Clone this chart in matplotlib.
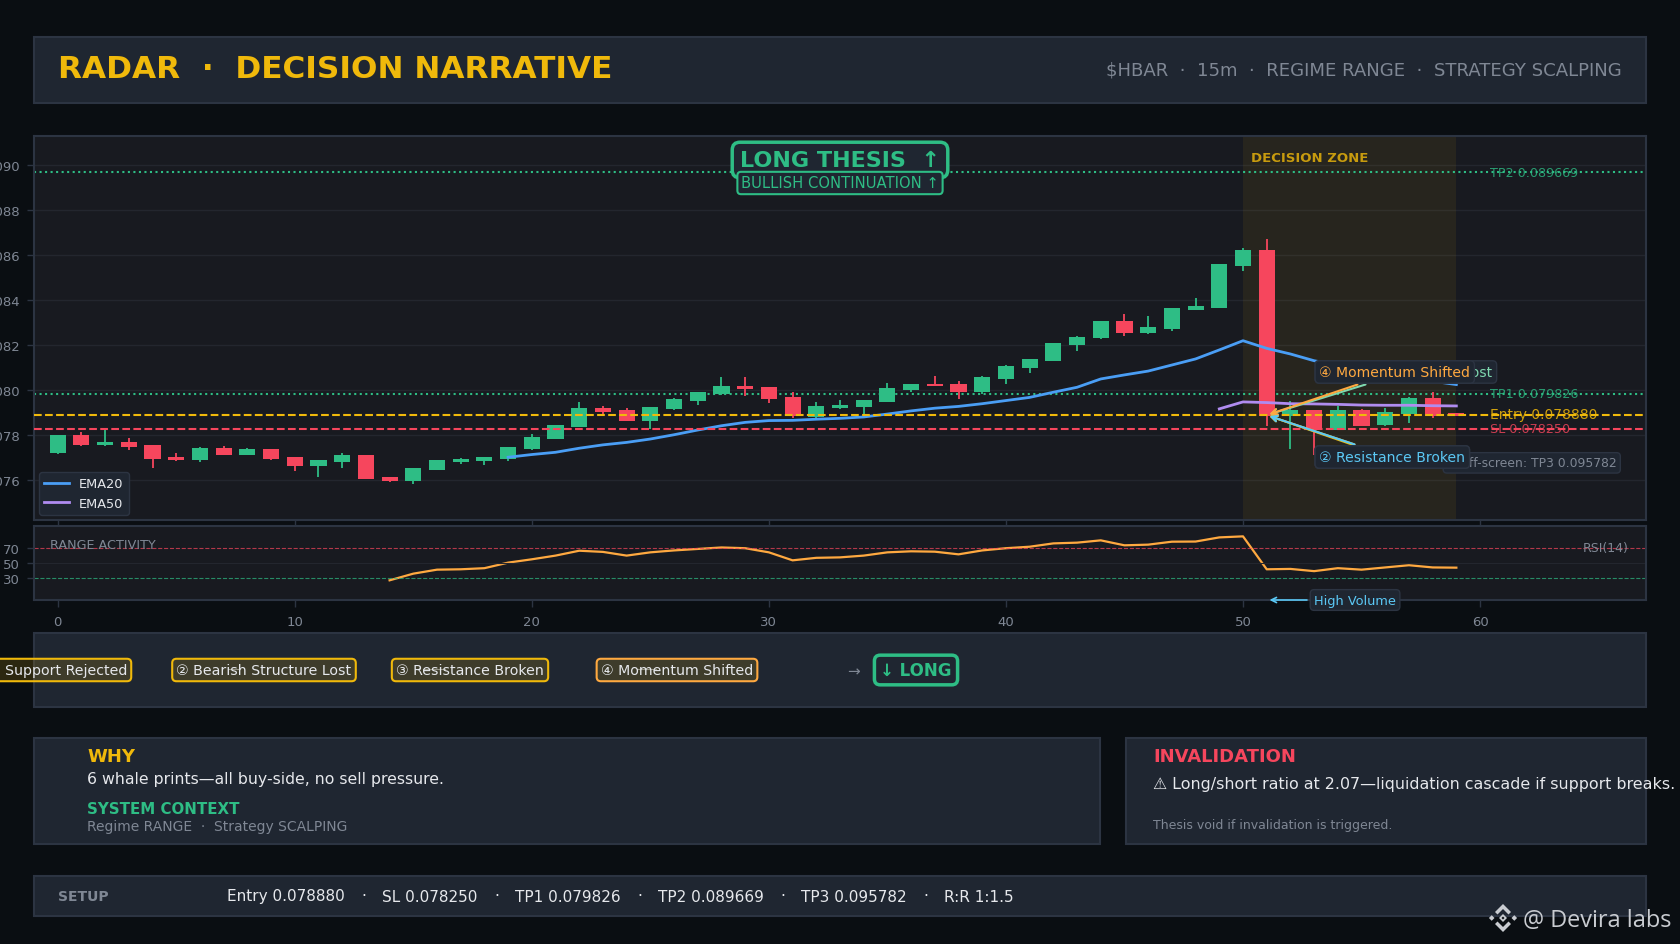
import numpy as np
import matplotlib
matplotlib.use("Agg")
import matplotlib.pyplot as plt
from matplotlib.patches import Rectangle, Polygon

# candles
opens = [0.07721, 0.07800, 0.07757, 0.07769, 0.07756, 0.07702, 0.07690, 0.07742, 0.07713, 0.07738,
         0.07702, 0.07664, 0.07681, 0.07711, 0.07613, 0.07597, 0.07646, 0.07681, 0.07686, 0.07695,
         0.07738, 0.07782, 0.07837, 0.07920, 0.07911, 0.07864, 0.07916, 0.07951, 0.07982, 0.08018,
         0.08013, 0.07969, 0.07880, 0.07920, 0.07924, 0.07947, 0.08000, 0.08027, 0.08027, 0.07991,
         0.08049, 0.08098, 0.08129, 0.08200, 0.08231, 0.08307, 0.08253, 0.08271, 0.08356, 0.08364,
         0.08551, 0.08622, 0.07884, 0.07911, 0.07822, 0.07911, 0.07844, 0.07893, 0.07964, 0.07898]
closes = [0.07800, 0.07757, 0.07769, 0.07748, 0.07695, 0.07689, 0.07742, 0.07713, 0.07738, 0.07695,
          0.07664, 0.07689, 0.07711, 0.07606, 0.07597, 0.07653, 0.07689, 0.07693, 0.07702, 0.07747,
          0.07791, 0.07844, 0.07920, 0.07902, 0.07864, 0.07924, 0.07960, 0.07991, 0.08018, 0.08004,
          0.07960, 0.07884, 0.07929, 0.07933, 0.07956, 0.08009, 0.08027, 0.08018, 0.07991, 0.08058,
          0.08107, 0.08138, 0.08209, 0.08236, 0.08307, 0.08253, 0.08280, 0.08364, 0.08373, 0.08560,
          0.08622, 0.07884, 0.07911, 0.07822, 0.07911, 0.07840, 0.07902, 0.07964, 0.07884, 0.07884]
highs = [0.07800, 0.07815, 0.07822, 0.07787, 0.07756, 0.07720, 0.07747, 0.07751, 0.07742, 0.07738,
         0.07702, 0.07689, 0.07720, 0.07711, 0.07613, 0.07653, 0.07689, 0.07698, 0.07702, 0.07747,
         0.07804, 0.07844, 0.07945, 0.07929, 0.07920, 0.07924, 0.07964, 0.07991, 0.08058, 0.08058,
         0.08013, 0.07990, 0.07947, 0.07956, 0.07956, 0.08031, 0.08027, 0.08062, 0.08040, 0.08062,
         0.08111, 0.08138, 0.08209, 0.08240, 0.08307, 0.08338, 0.08329, 0.08364, 0.08409, 0.08560,
         0.08631, 0.08671, 0.07951, 0.07911, 0.07929, 0.07916, 0.07920, 0.07969, 0.07991, 0.07898]
lows = [0.07716, 0.07751, 0.07753, 0.07735, 0.07655, 0.07686, 0.07681, 0.07713, 0.07713, 0.07689,
        0.07641, 0.07615, 0.07655, 0.07606, 0.07593, 0.07584, 0.07646, 0.07673, 0.07668, 0.07686,
        0.07733, 0.07782, 0.07837, 0.07889, 0.07864, 0.07827, 0.07911, 0.07933, 0.07979, 0.07973,
        0.07942, 0.07874, 0.07877, 0.07916, 0.07893, 0.07947, 0.07991, 0.08018, 0.07960, 0.07981,
        0.08027, 0.08076, 0.08129, 0.08173, 0.08227, 0.08240, 0.08249, 0.08262, 0.08356, 0.08364,
        0.08529, 0.07840, 0.07738, 0.07711, 0.07822, 0.07840, 0.07840, 0.07853, 0.07876, 0.07884]

# moving averages
ema20_x = list(range(19, 60))
ema20 = [0.07701, 0.07713, 0.07723, 0.07741, 0.07756, 0.07767, 0.07782, 0.07801, 0.07822, 0.07841,
         0.07856, 0.07864, 0.07865, 0.07870, 0.07874, 0.07880, 0.07893, 0.07907, 0.07919, 0.07927,
         0.07939, 0.07953, 0.07967, 0.07990, 0.08012, 0.08049, 0.08067, 0.08084, 0.08111, 0.08138,
         0.08178, 0.08219, 0.08185, 0.08160, 0.08130, 0.08111, 0.08090, 0.08071, 0.08056, 0.08039, 0.08024]
ema50_x = list(range(49, 60))
ema50 = [0.07916, 0.07947, 0.07944, 0.07939, 0.07938, 0.07936, 0.07933, 0.07932, 0.07932, 0.07930, 0.07929]

# rsi
rsi_x = list(range(14, 60))
rsi = [26.6, 35.6, 41, 41.5, 43, 50.5, 55, 60, 66.6, 65, 60, 64.4, 67, 69, 71, 70, 64.4, 53.6, 57, 57.6,
       60, 64.4, 65.8, 65.3, 61.7, 67, 70, 72, 76.5, 77.5, 80.6, 73.9, 74.8, 78.8, 79, 84.6, 86,
       41.5, 42, 39, 43, 41, 44, 47, 44, 43.7]

# levels
entry = 0.078880
sl = 0.078250
tp1 = 0.079826
tp2 = 0.089669

chain_labels = ["① Support Rejected", "② Bearish Structure Lost", "③ Resistance Broken", "④ Momentum Shifted"]
setup_items = ["Entry 0.078880", "SL 0.078250", "TP1 0.079826", "TP2 0.089669", "TP3 0.095782", "R:R 1:1.5"]

BG = "#0A0E12"
PANEL = "#1F2631"
EDGE = "#2C3442"
CHART = "#181A20"
GRID = "#23262E"
GREY = "#7F8794"
WHITE = "#E6E8EC"
GREEN = "#2EBD85"
RED = "#F6465D"
YELLOW = "#F0B90B"
BLUE = "#4A9EF5"
PURPLE = "#B08CF0"
ORANGE = "#FFA940"
CYAN = "#5BC8F5"

W, H = 1680, 945
fig = plt.figure(figsize=(16.8, 9.45), dpi=100, facecolor=BG)


def px_axes(left, top, right, bottom, **kw):
    return fig.add_axes([left / W, 1 - bottom / H, (right - left) / W, (bottom - top) / H], **kw)


def panel(left, top, right, bottom):
    back.add_patch(Rectangle((left, top), right - left, bottom - top, facecolor=PANEL, edgecolor=EDGE, lw=1.5))


back = fig.add_axes([0, 0, 1, 1], zorder=0)
back.set_xlim(0, W)
back.set_ylim(H, 0)
back.axis("off")

panel(34, 38, 1646, 104)
panel(34, 634, 1646, 708)
panel(34, 739, 1100, 845)
panel(1126, 739, 1646, 845)
panel(34, 877, 1646, 917)

# main chart
ax = px_axes(34, 137, 1646, 521, zorder=2, facecolor=CHART)
x = np.arange(len(opens))
o = np.array(opens)
c = np.array(closes)
cols = [GREEN if b >= a else RED for a, b in zip(opens, closes)]
ax.vlines(x, lows, highs, colors=cols, lw=1.3, zorder=3)
ax.bar(x, np.abs(c - o), bottom=np.minimum(o, c), width=0.68, color=cols, zorder=3)
ax.plot(ema20_x, ema20, color=BLUE, lw=2, label="EMA20", zorder=4)
ax.plot(ema50_x, ema50, color=PURPLE, lw=2, label="EMA50", zorder=4)
ax.axvspan(50, 59, color=YELLOW, alpha=0.07, lw=0, zorder=1)
ax.axhline(tp2, color=GREEN, ls=":", lw=1.5, zorder=2)
ax.axhline(tp1, color=GREEN, ls=":", lw=1.5, zorder=2)
ax.axhline(entry, color=YELLOW, ls="--", lw=1.5, zorder=5)
ax.axhline(sl, color=RED, ls="--", lw=1.5, zorder=5)
ax.set_xlim(-1, 67)
ax.set_ylim(0.07422, 0.09129)
ax.set_yticks([0.076, 0.078, 0.080, 0.082, 0.084, 0.086, 0.088, 0.090])
ax.set_yticklabels(["0.076", "0.078", "0.080", "0.082", "0.084", "0.086", "0.088", "0.090"])
ax.set_xticks([0, 10, 20, 30, 40, 50, 60])
ax.set_xticklabels([])
ax.grid(axis="y", color=GRID, lw=1, zorder=0)
ax.set_axisbelow(True)
ax.tick_params(colors=GREY, labelsize=9.5, length=5, width=1, color=EDGE, pad=5.5)
for s in ax.spines.values():
    s.set_color(EDGE)
    s.set_linewidth(1.5)

ax.text(60.4, tp2, "TP2 0.089669", color=GREEN, fontsize=9.2, va="center", alpha=0.8, zorder=6)
ax.text(60.4, tp1, "TP1 0.079826", color=GREEN, fontsize=9.2, va="center", alpha=0.8, zorder=6)
ax.text(60.4, entry + 0.00003, "Entry 0.078880", color=YELLOW, fontsize=10, va="center", alpha=0.85, zorder=6)
ax.text(60.4, sl + 0.00003, "SL 0.078250", color=RED, fontsize=9.2, va="center", alpha=0.8, zorder=6)
ax.text(50.35, 0.09035, "DECISION ZONE", color=YELLOW, fontsize=9.5, fontweight="bold", va="center", alpha=0.8)

leg = ax.legend(loc="lower left", fontsize=9.3, facecolor=PANEL, edgecolor=EDGE, labelcolor=WHITE,
                framealpha=1, borderaxespad=0.4, handlelength=1.9)
leg.set_zorder(8)

ax.text(58.6, 0.07676, "↑ off-screen: TP3 0.095782", color=GREY, fontsize=8.9, va="center", zorder=7,
        bbox=dict(boxstyle="round,pad=0.3", facecolor=PANEL, edgecolor=EDGE))

anno = [("① Support Rejected", YELLOW, 0.07702),
        ("② Bearish Structure Lost", "#7FD8B0", 0.0808),
        ("③ Resistance Broken", YELLOW, 0.07702),
        ("④ Momentum Shifted", ORANGE, 0.0808),
        ("② Resistance Broken", CYAN, 0.07702)]
for label, col, yy in anno:
    ax.annotate(label, xy=(51, entry), xytext=(53.22, yy), color=col, fontsize=10.1, va="center", zorder=9,
                bbox=dict(boxstyle="round,pad=0.3", facecolor=PANEL, edgecolor=EDGE),
                arrowprops=dict(arrowstyle="->", color=col, lw=1.5))

# rsi panel
ax2 = px_axes(34, 527, 1646, 601, zorder=2, facecolor=CHART)
ax2.plot(rsi_x, rsi, color=ORANGE, lw=1.6)
ax2.axhline(70, color=RED, ls="--", lw=0.8, alpha=0.7)
ax2.axhline(30, color=GREEN, ls="--", lw=0.8, alpha=0.7)
ax2.axhline(50, color=GRID, lw=0.8)
ax2.set_xlim(-1, 67)
ax2.set_ylim(0, 100)
ax2.set_yticks([30, 50, 70])
ax2.set_xticks([0, 10, 20, 30, 40, 50, 60])
ax2.tick_params(colors=GREY, labelsize=9.5, length=5, width=1, color=EDGE, pad=5.5)
for s in ax2.spines.values():
    s.set_color(EDGE)
    s.set_linewidth(1.5)
ax2.text(0.0098, 0.755, "RANGE ACTIVITY", transform=ax2.transAxes, color=GREY, fontsize=9.2, va="center")
ax2.text(0.989, 0.71, "RSI(14)", transform=ax2.transAxes, color=GREY, fontsize=9, va="center", ha="right")
ax2.annotate("High Volume", xy=(51, 0), xytext=(53.0, 0), color=CYAN, fontsize=9.3, va="center",
             annotation_clip=False, zorder=9,
             bbox=dict(boxstyle="round,pad=0.3", facecolor=PANEL, edgecolor=EDGE),
             arrowprops=dict(arrowstyle="->", color=CYAN, lw=1.2))

# everything else is placed in figure pixels
top = fig.add_axes([0, 0, 1, 1], zorder=5)
top.set_xlim(0, W)
top.set_ylim(H, 0)
top.axis("off")
top.patch.set_alpha(0)

top.text(58, 70, "RADAR  ·  DECISION NARRATIVE", color=YELLOW, fontsize=22.45, fontweight="bold", va="center")
top.text(1622, 71, "$HBAR  ·  15m  ·  REGIME RANGE  ·  STRATEGY SCALPING", color=GREY, fontsize=13.05,
         va="center", ha="right", parse_math=False)

top.text(840, 161, "LONG THESIS  ↑", color=GREEN, fontsize=16, fontweight="bold", ha="center", va="center",
         bbox=dict(boxstyle="round,pad=0.35", facecolor=PANEL, edgecolor=GREEN, lw=2.5))
top.text(840, 184, "BULLISH CONTINUATION ↑", color=GREEN, fontsize=10.6, ha="center", va="center",
         bbox=dict(boxstyle="round,pad=0.25", facecolor=PANEL, edgecolor=GREEN, lw=1.5))

# short connector stubs that show through the chain labels
for x0, x1 in [(228, 240), (423, 445), (637, 656)]:
    top.plot([x0, x1], [670, 670], color=GREY, lw=0.8, zorder=4)

chain_x = [127, 264, 470, 677]
chain_edge = [YELLOW, YELLOW, YELLOW, ORANGE]
for i, label in enumerate(chain_labels):
    top.text(chain_x[i], 671, label, color=WHITE, fontsize=10.15, ha="center" if i else "right", va="center", zorder=5,
             bbox=dict(boxstyle="round,pad=0.3", facecolor=(0.94, 0.73, 0.04, 0.15), edgecolor=chain_edge[i], lw=1.5))
top.text(854, 672, "→", color=GREY, fontsize=11, ha="center", va="center")
top.text(916, 671, "↓ LONG", color=GREEN, fontsize=12, fontweight="bold", ha="center", va="center",
         bbox=dict(boxstyle="round,pad=0.35", facecolor=PANEL, edgecolor=GREEN, lw=2.5))

top.text(87, 757.5, "WHY", color=YELLOW, fontsize=13, fontweight="bold", va="center")
top.text(87, 779.5, "6 whale prints—all buy-side, no sell pressure.", color=WHITE, fontsize=11.35, va="center")
top.text(87, 810, "SYSTEM CONTEXT", color=GREEN, fontsize=10.8, fontweight="bold", va="center")
top.text(87, 827, "Regime RANGE  ·  Strategy SCALPING", color=GREY, fontsize=10, va="center")

top.text(1153, 757.5, "INVALIDATION", color=RED, fontsize=13, fontweight="bold", va="center")
top.text(1153, 785, "⚠ Long/short ratio at 2.07—liquidation cascade if support breaks.", color=WHITE,
         fontsize=11.45, va="center")
top.text(1153, 825.5, "Thesis void if invalidation is triggered.", color=GREY, fontsize=9, va="center")

top.text(58, 897, "SETUP", color=GREY, fontsize=10, fontweight="bold", va="center")
setup_x = [227, 382.5, 515, 658, 801, 944]
dot_x = [364, 497, 640, 783, 926]
for px, label in zip(setup_x, setup_items):
    top.text(px, 897, label, color=WHITE, fontsize=11, va="center")
for px in dot_x:
    top.text(px, 897, "·", color=WHITE, fontsize=11, va="center", ha="center")

# watermark, logo built from small diamonds and chevrons
logo_col = "#C9CCD1"
for cx, r in [(1503, 4), (1491.7, 2.8), (1514.3, 2.8)]:
    top.add_patch(Polygon([(cx - r, 919), (cx, 919 - r), (cx + r, 919), (cx, 919 + r)], color=logo_col, lw=0))
top.add_patch(Polygon([(1501.5, 919), (1503, 917.5), (1504.5, 919), (1503, 920.5)], color=BG, lw=0))
for sgn in [-1, 1]:
    chevron = [(1503, 919 + sgn * 14), (1511, 919 + sgn * 6), (1508.5, 919 + sgn * 3.5), (1503, 919 + sgn * 9),
               (1497.5, 919 + sgn * 3.5), (1495, 919 + sgn * 6)]
    top.add_patch(Polygon(chevron, color=logo_col, lw=0))
top.text(1523, 921, "@ Devira labs", color=logo_col, fontsize=16.9, va="center", family="Open Sans")

fig.savefig("out.png", dpi=100, facecolor=BG)
